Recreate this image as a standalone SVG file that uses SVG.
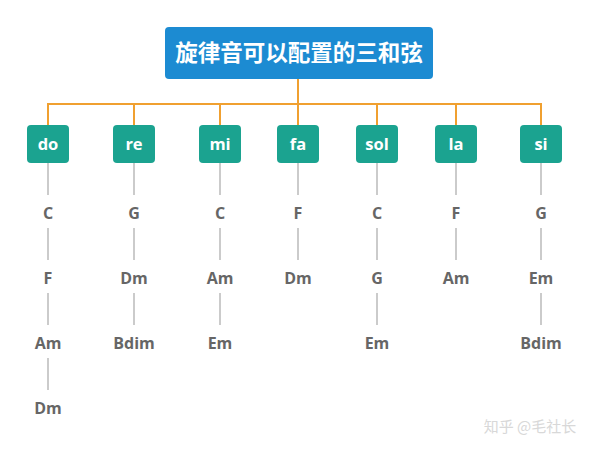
<svg xmlns="http://www.w3.org/2000/svg" width="600" height="451" viewBox="0 0 600 451">
<style>
.node rect{fill:#1ba390}
.node text{fill:#fff;font-family:"Open Sans","Noto Sans",sans-serif;font-weight:bold;font-size:16.5px;text-anchor:middle}
.ch{fill:#666;font-family:"Open Sans","Noto Sans",sans-serif;font-weight:bold;font-size:16px;text-anchor:middle}
.org{stroke:#f0a030;stroke-width:2;fill:none}
.gl{stroke:#bbbbbb;stroke-width:1.5;fill:none}
</style>
<rect width="600" height="451" fill="#fff"/>
<g id="connectors">
<path class="org" d="M298 79V104M47 104H542M48 104V125M134 104V125M220 104V125M298 104V125M377 104V125M456 104V125M541 104V125"/>
<path class="gl" d="M48 163V195M48 228V260M48 293V325M48 358V390
M134 163V195M134 228V260M134 293V325
M220 163V195M220 228V260M220 293V325
M298 163V195M298 228V260
M377 163V195M377 228V260M377 293V325
M456 163V195M456 228V260
M541 163V195M541 228V260M541 293V325"/>
</g>
<g id="title">
<rect x="165" y="27" width="268" height="52" rx="4" fill="#1c8bd2"/>
<text x="299" y="61" fill="#fff" font-family="Noto Sans CJK SC, sans-serif" font-weight="bold" font-size="22.5" text-anchor="middle">旋律音可以配置的三和弦</text>
</g>
<g id="n-do" class="node"><rect x="27" y="125" width="42" height="38" rx="4"/><text x="48" y="150">do</text></g>
<g id="n-re" class="node"><rect x="113" y="125" width="42" height="38" rx="4"/><text x="134" y="150">re</text></g>
<g id="n-mi" class="node"><rect x="199" y="125" width="42" height="38" rx="4"/><text x="220" y="150">mi</text></g>
<g id="n-fa" class="node"><rect x="277" y="125" width="42" height="38" rx="4"/><text x="298" y="150">fa</text></g>
<g id="n-sol" class="node"><rect x="356" y="125" width="42" height="38" rx="4"/><text x="377" y="150">sol</text></g>
<g id="n-la" class="node"><rect x="435" y="125" width="42" height="38" rx="4"/><text x="456" y="150">la</text></g>
<g id="n-si" class="node"><rect x="520" y="125" width="42" height="38" rx="4"/><text x="541" y="150">si</text></g>
<g id="chords">
<text class="ch" x="48" y="219">C</text><text class="ch" x="48" y="284">F</text><text class="ch" x="48" y="349">Am</text><text class="ch" x="48" y="414">Dm</text>
<text class="ch" x="134" y="219">G</text><text class="ch" x="134" y="284">Dm</text><text class="ch" x="134" y="349">Bdim</text>
<text class="ch" x="220" y="219">C</text><text class="ch" x="220" y="284">Am</text><text class="ch" x="220" y="349">Em</text>
<text class="ch" x="298" y="219">F</text><text class="ch" x="298" y="284">Dm</text>
<text class="ch" x="377" y="219">C</text><text class="ch" x="377" y="284">G</text><text class="ch" x="377" y="349">Em</text>
<text class="ch" x="456" y="219">F</text><text class="ch" x="456" y="284">Am</text>
<text class="ch" x="541" y="219">G</text><text class="ch" x="541" y="284">Em</text><text class="ch" x="541" y="349">Bdim</text>
</g>
<text x="530" y="432" fill="#d8d8d8" font-family="Noto Sans CJK SC, sans-serif" font-size="15" text-anchor="middle">知乎 @毛社长</text>
</svg>
